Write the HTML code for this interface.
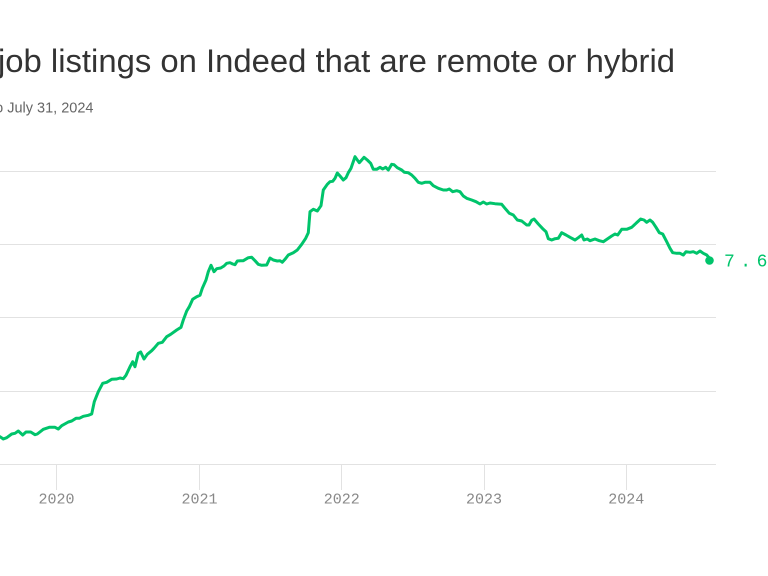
<!DOCTYPE html>
<html>
<head>
<meta charset="utf-8">
<style>
  html, body { margin: 0; padding: 0; background: #ffffff; }
  body { width: 768px; height: 576px; overflow: hidden; }
  svg { display: block; }
</style>
</head>
<body>
<svg width="768" height="576" viewBox="0 0 768 576" xmlns="http://www.w3.org/2000/svg">
  <rect x="0" y="0" width="768" height="576" fill="#ffffff"/>

  <!-- Title -->
  <text x="-2" y="72" textLength="677" lengthAdjust="spacingAndGlyphs" font-family="Liberation Sans, Arial, sans-serif" font-size="32" fill="#333333">job listings on Indeed that are remote or hybrid</text>
  <!-- Subtitle -->
  <text x="93.5" y="112.3" text-anchor="end" font-family="Liberation Sans, Arial, sans-serif" font-size="14.5" fill="#666666">to July 31, 2024</text>

  <!-- Gridlines -->
  <g stroke="#e2e2e2" stroke-width="1">
    <line x1="0" y1="171.5" x2="716" y2="171.5"/>
    <line x1="0" y1="244.5" x2="716" y2="244.5"/>
    <line x1="0" y1="317.5" x2="716" y2="317.5"/>
    <line x1="0" y1="391.5" x2="716" y2="391.5"/>
    <line x1="0" y1="464.5" x2="716" y2="464.5"/>
  </g>
  <!-- Ticks -->
  <g stroke="#e2e2e2" stroke-width="1">
    <line x1="56.5" y1="464" x2="56.5" y2="490"/>
    <line x1="199.5" y1="464" x2="199.5" y2="490"/>
    <line x1="341.5" y1="464" x2="341.5" y2="490"/>
    <line x1="484.5" y1="464" x2="484.5" y2="490"/>
    <line x1="626.5" y1="464" x2="626.5" y2="490"/>
  </g>
  <!-- Tick labels -->
  <g font-family="Liberation Mono, monospace" font-size="15" fill="#888888" text-anchor="middle">
    <text x="56.5" y="503.5">2020</text>
    <text x="199.5" y="503.5">2021</text>
    <text x="341.7" y="503.5">2022</text>
    <text x="484" y="503.5">2023</text>
    <text x="626.3" y="503.5">2024</text>
  </g>

  <!-- Series -->
  <polyline fill="none" stroke="#00c46b" stroke-width="3" stroke-linejoin="round" stroke-linecap="round"
    points="-3,436 0,436.7 3.3,439 6.7,437.7 11.7,434 15,433.3 18.3,431 22.7,435 26,432 30.7,432 35,434.7 37.3,434 43.3,429.3 49.3,427.3 55,427.3 58.3,429 61.7,425.7 68.3,422 71.7,421 76,418.3 79.3,418.3 83.3,416.3 88.3,415.3 91.7,414 94.3,401.7 98.3,391.7 102.7,383.3 106.7,382.3 111.7,379.3 116.7,379 120,378 123.3,378.7 126,375.3 130,366.7 132.7,361.7 135,366.7 138.3,353.3 140.7,352 144,359 147.3,354.3 151.7,350.7 154,348.3 158.3,343.3 162.3,342.3 166.7,336.7 170.7,334.3 176.7,330 181,327.3 183.3,320 186.7,311 189.3,306.7 192.7,299.3 196.7,296.7 200,295.3 202.3,288.3 206,280 208.3,271.7 211,265.3 214,271.7 216.7,268.7 220.7,268 224,266 226.7,263.3 230,262.7 232.7,264 235,264.7 237.3,261 240.7,260.7 243.3,260.7 248.3,257.7 251.7,257.3 255,260.7 258.3,264.3 261.7,265.3 266.7,265 270,258 273.3,260 277.3,261 280,260.7 282.3,262.3 285,259.3 288.3,255 293.3,252.7 297.3,250 301.7,244.3 305.7,238.3 308.3,232.7 310,211.7 313.3,209.3 317.3,211 321,205.7 323.3,190 327.3,184.3 330,181.7 332.7,181.3 335,178.3 337.3,173 340,176 343.3,180 346,177.7 348.3,172.7 351,168.3 355,156.7 357.3,160 359.3,162.7 361.7,160 364,157.3 367.3,160 370.7,163.3 373.3,169.3 376.7,169.3 380,167.3 382.7,169 385.7,167.3 388.3,170 391.7,164.3 394,164.7 397.3,167.7 401.7,170 404.3,172.3 408.3,172.7 411.7,175 415,178.3 418.3,182.3 421.7,183.3 425,182.3 430,182.3 433.3,185.7 438.3,188.3 443.3,190 446.7,190 449.3,189 452.7,191.7 456.7,190.7 460,191.7 463.3,196 466.7,198.3 471.7,200 476,201.7 480,204 483.3,202 486.7,204 490,203 495,203.7 501.7,204.3 505,208.3 509.3,213.3 513.3,215 517.3,220 521.7,221 526.7,225 529,225 531.7,220.3 534,219 538.3,224 543.3,229.3 546,231.7 548.3,238.7 551.7,240 555,238.7 558.3,238.3 561.7,232.7 566,235 570,237.3 575,240 578.3,237.7 581.7,235 584,240 587.3,239 590,240.7 595,239 599.3,240.7 603.3,241.7 607.3,239 611.7,236 615,234 617.7,235 621.7,229.3 626.7,229.3 631.7,227.3 636,223.3 640.7,219 644,220 646.7,222.3 650,220 652.7,222.3 656,227.3 659.3,232.7 662.7,234 666.7,241.7 670,248.3 672.7,252.7 676.7,253.3 680,253.3 683.3,255 686,251.7 690,252.3 693.3,251.7 696.7,253.3 700,251 703.3,253.3 706.7,255 709.3,258"/>
  <circle cx="709.5" cy="260.5" r="4.3" fill="#00c46b"/>

  <!-- End label -->
  <text x="724" y="266.5" font-family="Liberation Mono, monospace" font-size="18" letter-spacing="5.5" fill="#00c46b">7.6%</text>
</svg>
</body>
</html>
